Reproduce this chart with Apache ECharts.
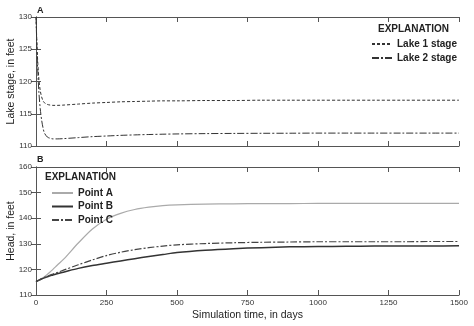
<!DOCTYPE html>
<html>
<head>
<meta charset="utf-8">
<script src="https://cdn.jsdelivr.net/npm/echarts@6/dist/echarts.min.js"></script>
<style>
  html, body { margin: 0; padding: 0; background: #fff; }
  #chart { width: 474px; height: 326px; }
</style>
</head>
<body>
<div id="chart"></div>
<script>
// Simulation time, in days
const days = [0, 5, 10, 15, 20, 25, 30, 40, 50, 60, 75, 100, 150, 200, 250, 300, 350, 400, 450, 500, 600, 700, 800, 900, 1000, 1100, 1200, 1300, 1400, 1500];

// Panel A: lake stages, in feet
const lake1Stage = [130, 124, 120.5, 118.6, 117.6, 117.0, 116.7, 116.45, 116.35, 116.3, 116.3, 116.35, 116.5, 116.65, 116.75, 116.85, 116.9, 116.95, 117.0, 117.0, 117.05, 117.05, 117.1, 117.1, 117.1, 117.1, 117.1, 117.1, 117.1, 117.1];
const lake2Stage = [130, 123, 118.5, 115.8, 114.0, 112.8, 112.0, 111.4, 111.2, 111.1, 111.1, 111.15, 111.3, 111.45, 111.55, 111.65, 111.72, 111.78, 111.83, 111.87, 111.92, 111.95, 111.97, 111.98, 112.0, 112.0, 112.0, 112.0, 112.0, 112.0];

// Panel B: heads at observation points, in feet
const pointA = [115.2, 115.4, 115.7, 116.0, 116.3, 116.7, 117.1, 118.0, 119.0, 120.0, 121.6, 124.2, 130.3, 135.8, 139.6, 141.9, 143.4, 144.3, 144.9, 145.2, 145.5, 145.6, 145.7, 145.7, 145.8, 145.8, 145.8, 145.8, 145.8, 145.8];
const pointB = [115.2, 115.5, 115.8, 116.0, 116.3, 116.5, 116.7, 117.1, 117.5, 117.8, 118.3, 119.0, 120.4, 121.5, 122.4, 123.3, 124.2, 125.0, 125.8, 126.6, 127.5, 128.1, 128.5, 128.8, 128.9, 129.0, 129.1, 129.1, 129.1, 129.2];
const pointC = [115.2, 115.5, 115.8, 116.1, 116.4, 116.6, 116.9, 117.3, 117.8, 118.2, 118.8, 119.8, 121.8, 123.7, 125.4, 126.7, 127.7, 128.5, 129.1, 129.6, 130.1, 130.4, 130.6, 130.7, 130.8, 130.8, 130.8, 130.8, 130.9, 130.9];

// Axis tick settings
const xTicks = { min: 0, max: 1500, interval: 250 };
const stageTicks = { min: 110, max: 130, interval: 5 };
const headTicks = { min: 110, max: 160, interval: 10 };

const pairs = (ys) => days.map((d, i) => [d, ys[i]]);

const axisColor = '#555';
const font = 'Arial, "Liberation Sans", sans-serif';

function frameAxis(extra) {
  return Object.assign({
    type: 'value',
    axisLine: { show: true, lineStyle: { color: axisColor, width: 1 } },
    axisTick: { show: true, inside: true, length: 5, lineStyle: { color: axisColor } },
    splitLine: { show: false },
    axisLabel: { show: false },
    nameMoveOverlap: false
  }, extra);
}

const labelStyle = { show: true, color: '#333', fontSize: 8, fontFamily: font, margin: 4, formatter: (v) => String(v) };
const nameStyle = { color: '#222', fontSize: 10.5, fontFamily: font };

const chart = echarts.init(document.getElementById('chart'), null, { renderer: 'canvas' });

chart.setOption({
  animation: false,
  backgroundColor: '#fff',
  grid: [
    { left: 36, right: 15, top: 17, height: 129, containLabel: false, outerBoundsMode: 'none' },
    { left: 36, right: 15, top: 167, height: 128, containLabel: false, outerBoundsMode: 'none' }
  ],
  xAxis: [
    frameAxis(Object.assign({ gridIndex: 0, position: 'bottom' }, xTicks)),
    frameAxis(Object.assign({ gridIndex: 0, position: 'top' }, xTicks)),
    frameAxis(Object.assign({ gridIndex: 1, position: 'bottom',
      axisLabel: Object.assign({}, labelStyle, { margin: 4 }),
      name: 'Simulation time, in days', nameLocation: 'middle', nameGap: 15,
      nameTextStyle: nameStyle }, xTicks)),
    frameAxis(Object.assign({ gridIndex: 1, position: 'top' }, xTicks))
  ],
  yAxis: [
    frameAxis(Object.assign({ gridIndex: 0, position: 'left',
      axisLabel: labelStyle,
      name: 'Lake stage, in feet', nameLocation: 'middle', nameGap: 19,
      nameTextStyle: nameStyle }, stageTicks)),
    frameAxis(Object.assign({ gridIndex: 0, position: 'right' }, stageTicks)),
    frameAxis(Object.assign({ gridIndex: 1, position: 'left',
      axisLabel: labelStyle,
      name: 'Head, in feet', nameLocation: 'middle', nameGap: 19,
      nameTextStyle: nameStyle }, headTicks)),
    frameAxis(Object.assign({ gridIndex: 1, position: 'right' }, headTicks))
  ],
  legend: [
    {
      data: ['Lake 1 stage', 'Lake 2 stage'],
      orient: 'vertical', left: 366, top: 34,
      itemWidth: 20, itemHeight: 10, itemGap: 4,
      itemStyle: { opacity: 0 },
      textStyle: { fontSize: 10, fontWeight: 'bold', color: '#222', fontFamily: font }
    },
    {
      data: ['Point A', 'Point B', 'Point C'],
      orient: 'vertical', left: 46, top: 183,
      itemWidth: 21, itemHeight: 10, itemGap: 3.5,
      itemStyle: { opacity: 0 },
      textStyle: { fontSize: 10, fontWeight: 'bold', color: '#222', fontFamily: font }
    }
  ],
  graphic: [
    { type: 'text', left: 37, top: 6, style: { text: 'A', font: 'bold 9px ' + font, fill: '#222' } },
    { type: 'text', left: 37, top: 155, style: { text: 'B', font: 'bold 9px ' + font, fill: '#222' } },
    { type: 'text', left: 378, top: 24, style: { text: 'EXPLANATION', font: 'bold 10px ' + font, fill: '#222' } },
    { type: 'text', left: 45, top: 172, style: { text: 'EXPLANATION', font: 'bold 10px ' + font, fill: '#222' } }
  ],
  series: [
    { name: 'Lake 1 stage', type: 'line', xAxisIndex: 0, yAxisIndex: 0, data: pairs(lake1Stage),
      smooth: 0.3, symbol: 'none', lineStyle: { color: '#333', width: 1, type: [3, 2] }, itemStyle: { color: '#333' } },
    { name: 'Lake 2 stage', type: 'line', xAxisIndex: 0, yAxisIndex: 0, data: pairs(lake2Stage),
      smooth: 0.3, symbol: 'none', lineStyle: { color: '#333', width: 1, type: [7, 2, 2, 2] }, itemStyle: { color: '#333' } },
    { name: 'Point A', type: 'line', xAxisIndex: 2, yAxisIndex: 2, data: pairs(pointA),
      smooth: 0.3, symbol: 'none', lineStyle: { color: '#aaa', width: 1.2 }, itemStyle: { color: '#aaa' } },
    { name: 'Point B', type: 'line', xAxisIndex: 2, yAxisIndex: 2, data: pairs(pointB),
      smooth: 0.3, symbol: 'none', lineStyle: { color: '#333', width: 1.5 }, itemStyle: { color: '#333' } },
    { name: 'Point C', type: 'line', xAxisIndex: 2, yAxisIndex: 2, data: pairs(pointC),
      smooth: 0.3, symbol: 'none', lineStyle: { color: '#444', width: 1.2, type: [7, 2, 2, 2] }, itemStyle: { color: '#444' } }
  ]
});
</script>
</body>
</html>
